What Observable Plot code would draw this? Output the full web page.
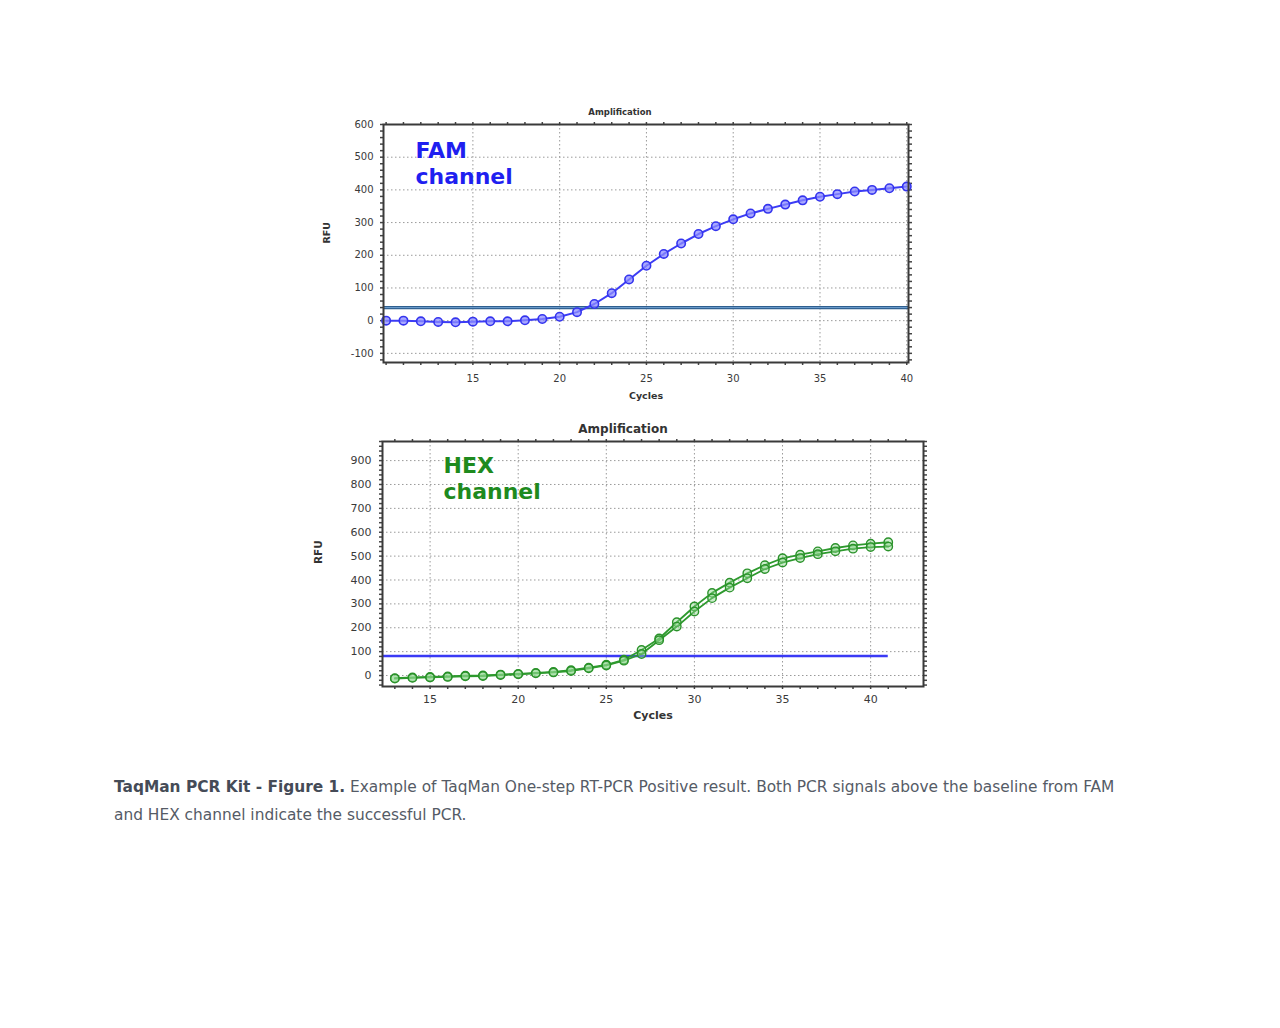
<!DOCTYPE html>
<html><head><meta charset="utf-8">
<script src="https://cdn.jsdelivr.net/npm/d3@7"></script>
<script src="https://cdn.jsdelivr.net/npm/@observablehq/plot@0.6"></script>
<style>
body{margin:0;background:#fff;width:1280px;height:1028px;position:relative;overflow:hidden;}
#fam{position:absolute;left:300px;top:100px}
#hex{position:absolute;left:300px;top:415px}
#caption{position:absolute;left:114px;top:773px;width:1100px;font-family:"DejaVu Sans",sans-serif;font-size:15.4px;line-height:28px;color:#555b66;white-space:nowrap}
#caption b{color:#454b57}
</style></head><body>
<div id="fam"></div>
<div id="hex"></div>
<div id="caption"><b>TaqMan PCR Kit - Figure 1.</b> Example of TaqMan One-step RT-PCR Positive result. Both PCR signals above the baseline from FAM<br>and HEX channel indicate the successful PCR.</div>
<script>
// ---- Data ----
const famCycles = [10,11,12,13,14,15,16,17,18,19,20,21,22,23,24,25,26,27,28,29,30,31,32,33,34,35,36,37,38,39,40];
const famRFU    = [0,0,-2,-4,-5,-3,-2,-2,1,5,12,26,51,84,126,168,204,236,265,289,310,328,342,355,368,379,387,395,400,405,410];
const famThreshold = 40;

const hexCycles = [13,14,15,16,17,18,19,20,21,22,23,24,25,26,27,28,29,30,31,32,33,34,35,36,37,38,39,40,41];
const hexRFU_A  = [-11,-8,-6,-4,-1,0,4,7,11,15,22,33,45,66,107,155,223,289,346,389,428,462,491,506,520,534,545,552,558];
const hexRFU_B  = [-13,-10,-8,-6,-3,-2,2,5,9,13,19,30,42,62,90,148,205,268,324,368,407,446,473,492,508,520,531,538,540];
const hexThreshold = 82;
const hexThresholdEnd = 41;

const famXTicks = [15,20,25,30,35,40];
const famYTicks = [-100,0,100,200,300,400,500,600];
const hexXTicks = [15,20,25,30,35,40];
const hexYTicks = [0,100,200,300,400,500,600,700,800,900];

const titleText = "Amplification";
const xLabel = "Cycles";
const yLabel = "RFU";

// minor tick positions for the frame
const famMinorX = d3.range(10, 41, 1);
const famMinorY = d3.range(-120, 601, 20);
const hexMinorX = d3.range(13, 43, 1);
const hexMinorY = d3.range(-40, 981, 20);

const tickFont = "DejaVu Sans, Verdana, sans-serif";
const plainFormat = d => String(d);

function frameTicks(minX, minY) {
  const o = {tickSize: 3, tickFormat: () => "", label: null, stroke: "#444", strokeWidth: 1.5};
  return [
    Plot.axisX(minX, {...o, anchor: "bottom"}),
    Plot.axisX(minX, {...o, anchor: "top"}),
    Plot.axisY(minY, {...o, anchor: "left"}),
    Plot.axisY(minY, {...o, anchor: "right"})
  ];
}

// ---- FAM chart ----
const famData = famCycles.map((c, i) => ({cycle: c, rfu: famRFU[i]}));
const fam = Plot.plot({
  width: 620, height: 310,
  marginLeft: 83, marginRight: 12, marginTop: 24, marginBottom: 48,
  x: {domain: [9.85, 40.1]},
  y: {domain: [-128, 600]},
  style: {fontFamily: tickFont, fontSize: "10px", color: "#3a3a3a", background: "transparent"},
  marks: [
    Plot.gridX(famXTicks, {stroke: "#9a9a9a", strokeOpacity: 1, strokeDasharray: "1.5,2.5"}),
    Plot.gridY(famYTicks, {stroke: "#9a9a9a", strokeOpacity: 1, strokeDasharray: "1.5,2.5"}),
    ...frameTicks(famMinorX, famMinorY),
    Plot.axisX(famXTicks, {tickSize: 0, tickPadding: 12, label: null, fontSize: 10, tickFormat: plainFormat}),
    Plot.axisY(famYTicks, {tickSize: 0, tickPadding: 10, label: null, fontSize: 10, tickFormat: plainFormat}),
    Plot.ruleY([famThreshold], {stroke: "#2f5f8f", strokeWidth: 3.2}),
    Plot.ruleY([famThreshold], {stroke: "#6f9fcf", strokeWidth: 1}),
    Plot.line(famData, {x: "cycle", y: "rfu", stroke: "#3c3cf5", strokeWidth: 2}),
    Plot.dot(famData, {x: "cycle", y: "rfu", r: 4.2, stroke: "#3434ee", strokeWidth: 1.6, fill: "#8c8cff", fillOpacity: 0.75}),
    Plot.frame({stroke: "#3a3a3a", strokeWidth: 2}),
    Plot.text(["FAM\nchannel"], {frameAnchor: "top-left", dx: 32, dy: 16, lineAnchor: "top", textAnchor: "start", fontSize: 22, fontWeight: "bold", fill: "#1f1ff0", fontFamily: "DejaVu Sans", lineHeight: 1.15}),
    Plot.text([titleText], {frameAnchor: "top", dx: -26, dy: -16, fontSize: 8.5, fontWeight: "bold", fill: "#333"}),
    Plot.text([xLabel], {frameAnchor: "bottom", dy: 36, fontSize: 9.5, fontWeight: "bold", fill: "#333"}),
    Plot.text([yLabel], {frameAnchor: "left", dx: -57, rotate: -90, fontSize: 9.5, fontWeight: "bold", fill: "#333"})
  ]
});
document.getElementById("fam").appendChild(fam);

// ---- HEX chart ----
const hexData = [
  ...hexCycles.map((c, i) => ({cycle: c, rfu: hexRFU_A[i], well: "A"})),
  ...hexCycles.map((c, i) => ({cycle: c, rfu: hexRFU_B[i], well: "B"}))
];
const hex = Plot.plot({
  width: 640, height: 320,
  marginLeft: 82, marginRight: 17, marginTop: 26, marginBottom: 49,
  x: {domain: [12.3, 43.0]},
  y: {domain: [-46, 980]},
  style: {fontFamily: tickFont, fontSize: "11px", color: "#3a3a3a", background: "transparent"},
  marks: [
    Plot.gridX(hexXTicks, {stroke: "#9a9a9a", strokeOpacity: 1, strokeDasharray: "1.5,2.5"}),
    Plot.gridY(hexYTicks, {stroke: "#9a9a9a", strokeOpacity: 1, strokeDasharray: "1.5,2.5"}),
    ...frameTicks(hexMinorX, hexMinorY),
    Plot.axisX(hexXTicks, {tickSize: 0, tickPadding: 9, label: null, fontSize: 11, tickFormat: plainFormat}),
    Plot.axisY(hexYTicks, {tickSize: 0, tickPadding: 11, label: null, fontSize: 11, tickFormat: plainFormat}),
    Plot.ruleY([hexThreshold], {x1: 12.3, x2: hexThresholdEnd, stroke: "#3a3af5", strokeWidth: 2.4}),
    Plot.line(hexData, {x: "cycle", y: "rfu", z: "well", stroke: "#2e9a2e", strokeWidth: 1.8}),
    Plot.dot(hexData, {x: "cycle", y: "rfu", r: 4.2, stroke: "#2a922a", strokeWidth: 1.4, fill: "#8fd88f", fillOpacity: 0.45}),
    Plot.frame({stroke: "#3a3a3a", strokeWidth: 2}),
    Plot.text(["HEX\nchannel"], {frameAnchor: "top-left", dx: 61, dy: 14, lineAnchor: "top", textAnchor: "start", fontSize: 22, fontWeight: "bold", fill: "#1e8a1e", fontFamily: "DejaVu Sans", lineHeight: 1.15}),
    Plot.text([titleText], {frameAnchor: "top", dx: -30, dy: -17, fontSize: 12, fontWeight: "bold", fill: "#333"}),
    Plot.text([xLabel], {frameAnchor: "bottom", dy: 32, fontSize: 11, fontWeight: "bold", fill: "#333"}),
    Plot.text([yLabel], {frameAnchor: "left", dx: -64, rotate: -90, fontSize: 10.5, fontWeight: "bold", fill: "#333"})
  ]
});
document.getElementById("hex").appendChild(hex);
</script>
</body></html>
